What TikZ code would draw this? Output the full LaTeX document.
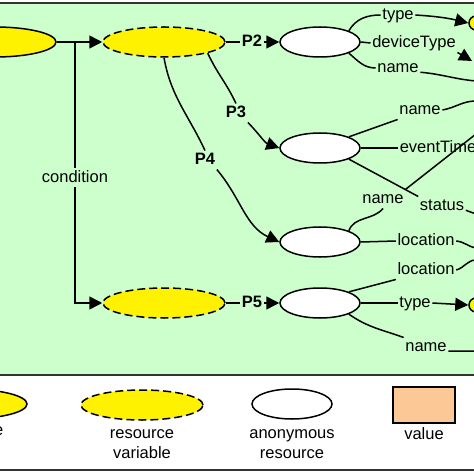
\documentclass[tikz,border=0pt]{standalone}
\usepackage{fontspec}
\setmainfont{Liberation Sans}
\usetikzlibrary{arrows.meta,positioning,shapes.geometric}
\definecolor{bggreen}{RGB}{204,255,204}
\definecolor{peach}{RGB}{252,200,150}
\tikzset{every picture/.style={
  >={Triangle[length=13bp,width=13bp]}  % Big filled arrow heads.
  }
}

\begin{document}
\begin{tikzpicture}[x=1bp,y=-1bp,line width=1.5bp,
    res/.style={                % Named resource.
      ellipse,
      draw,
      fill=yellow,
      minimum width=122bp,
      minimum height=30bp,
      inner sep=0pt
    },
    resvar/.style={             % Resource variable.
      res,
      dash pattern=on 8bp off 4bp
    },
    anon/.style={               % Anonymous resource.
      ellipse,
      draw,
      fill=white,
      minimum width=80bp,
      minimum height=30bp,
      inner sep=0pt
    },
    val/.style={                % Value box.
      rectangle,
      draw,
      fill=peach,
      minimum width=62bp,
      minimum height=36bp
    },
    lit/.style={                % Small value dot.
      circle,
      draw,
      fill=yellow,
      minimum size=14bp,
      inner sep=0pt
    },
    lbl/.style={                % Edge labels.
      inner sep=1bp,
      text height=12bp,
      text depth=3.5bp,
      font=\fontsize{16.5bp}{20bp}\selectfont
    },
    prop/.style={
      lbl,
      font=\fontsize{16.5bp}{20bp}\selectfont\bfseries
    },
    leg/.style={                % Legend text.
      align=center,
      inner sep=0pt,
      font=\fontsize{16.5bp}{20bp}\selectfont
    }]

    \useasboundingbox (0,0) rectangle (474,474);

    % Panels.
    \fill[white] (0,0) rectangle (474,474);
    \fill[bggreen] (0,4) rectangle (474,375);
    \draw[line width=2bp,black!80] (0,3) -- (474,3);
    \draw[line width=2bp,black!80] (0,375) -- (474,375);
    \draw[line width=2bp,black!80] (0,470) -- (474,470);

    % Resources.
    \node[res] (r0) at (-5,42) {};
    \node[resvar] (v1) at (164,42) {};
    \node[resvar] (v2) at (164,303) {};
    \node[anon] (a1) at (320,42) {};
    \node[anon] (a2) at (320,148) {};
    \node[anon] (a3) at (320,242) {};
    \node[anon] (a4) at (320,303) {};
    \node[lit] (l1) at (476,23) {};
    \node[lit] (l2) at (476,305) {};

    % Properties between variables.
    \node[prop] (p2) at (252,42) {P2};
    \node[prop] (p3) at (236,113) {P3};
    \node[prop] (p4) at (205,160) {P4};
    \node[prop] (p5) at (252,303) {P5};
    \node[lbl] (cond) at (75,178) {condition};

    \coordinate (split) at (75,42);
    \draw[->] (r0.east) -- (v1.west);
    \draw (split) -- (cond.north);
    \draw[->] (cond.south) |- (v2.west);
    \draw (v1.east) -- (p2.west);
    \draw[->] (p2.east) -- (a1.west);
    \draw (v2.east) -- (p5.west);
    \draw[->] (p5.east) -- (a4.west);
    \draw (v1.south east) to[out=-65,in=115] (p3.north);
    \draw[->] (p3.south east) to[out=-45,in=160] (a2.west);
    \draw (v1.south) to[out=-80,in=115] (p4.north);
    \draw[->] (p4.south east) to[out=-50,in=155] (a3.west);

    % Outgoing ends beyond the right border.
    \coordinate (e1) at (472,61);
    \coordinate (e2) at (476,81);
    \coordinate (e3) at (476,101);
    \coordinate (e4) at (476,214);
    \coordinate (e5) at (476,134);
    \coordinate (e6) at (476,248);
    \coordinate (e7) at (476,260);
    \coordinate (e8) at (476,351);

    % First anonymous resource.
    \node[lbl] (t1) at (398,15) {type};
    \node[lbl] (dt) at (414,43) {deviceType};
    \node[lbl] (n1) at (398,68) {name};
    \draw (a1.north east) to[out=60,in=180] (t1.west);
    \draw[->] (t1.east) to[bend left=5] (l1.west);
    \draw (a1.east) -- (dt.west);
    \draw[->] (dt.south east) -- (e1);
    \draw (a1.south east) to[out=-40,in=180] (n1.west);
    \draw (n1.base east) to[out=-5,in=175] (e2);

    % Second anonymous resource.
    \node[lbl] (n2) at (420,110) {name};
    \node[lbl] (et) at (438,148) {eventTime};
    \node[lbl] (st) at (442,206) {status};
    \draw (a2.north east) -- (n2.south west);
    \draw (n2.east) to[out=10,in=180] (e3);
    \draw (a2.east) -- (et.west);
    \draw (a2.south east) -- (st.north west);
    \draw (st.base east) -- (e4);

    % Third anonymous resource.
    \node[lbl] (n3) at (383,199) {name};
    \node[lbl] (lc3) at (426,241) {location};
    \draw (a3.north east) to[out=70,in=-130] (n3.south);
    \draw (n3.north east) -- (e5);
    \draw (a3.east) -- (lc3.west);
    \draw (lc3.east) to[out=-5,in=170] (e6);

    % Fourth anonymous resource.
    \node[lbl] (lc4) at (426,270) {location};
    \node[lbl] (t4) at (415,303) {type};
    \node[lbl] (n4) at (426,347) {name};
    \draw (a4.north east) -- (lc4.south west);
    \draw (lc4.east) to[out=15,in=180] (e7);
    \draw (a4.east) -- (t4.west);
    \draw[->] (t4.east) -- (l2.west);
    \draw (a4.south east) to[out=-35,in=160] (n4.north west);
    \draw (n4.base east) -- (e8);

    % Legend.
    \node[res] (lr) at (-34,404) {};
    \node[lbl,anchor=east] (lrt) at (5,431) {resource};
    \node[resvar] (lv) at (142,405) {};
    \node[leg] (lvt) [below=8bp of lv] {resource\\variable};
    \node[anon] (la) at (292,404) {};
    \node[leg] (lat) [below=9bp of la] {anonymous\\resource};
    \node[val] (lval) at (424,405) {};
    \node[leg] (lvalt) [below=3bp of lval] {value};
\end{tikzpicture}
\end{document}
